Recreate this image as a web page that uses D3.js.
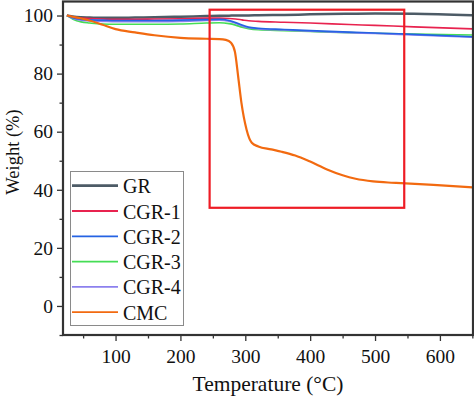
<!DOCTYPE html>
<html>
<head>
<meta charset="utf-8">
<script src="https://cdn.jsdelivr.net/npm/d3@7"></script>
<style>
  body { margin: 0; background: #fff; }
  svg text { font-family: "Liberation Serif", "Times New Roman", serif !important; }
</style>
</head>
<body>
<figure id="tga" style="margin:0"></figure>
<script>
// shared temperature grid for GR / CGR samples (°C)
const temps = [25, 40, 60, 80, 100, 130, 160, 200, 240, 260, 275, 285, 295, 305, 320, 360, 400, 460, 500, 560, 650];
const wGR   = [100, 99.5, 99.3, 99.2, 99.2, 99.3, 99.4, 99.6, 99.8, 99.9, 99.95, 100, 100, 100, 100.1, 100.2, 100.4, 100.6, 100.7, 100.6, 100.1];
const wCGR1 = [100, 99.3, 99.0, 98.8, 98.7, 98.7, 98.8, 98.9, 99.1, 99.1, 99.0, 98.8, 98.5, 98.2, 98.0, 97.7, 97.4, 96.9, 96.6, 96.1, 95.4];
const wCGR2 = [100, 98.9, 98.5, 98.4, 98.3, 98.3, 98.3, 98.4, 98.6, 98.7, 98.3, 97.6, 96.7, 96.0, 95.6, 95.2, 94.8, 94.3, 94.0, 93.5, 92.7];
const wCGR3 = [100, 98.2, 97.4, 97.1, 97.0, 97.0, 97.0, 97.1, 97.4, 97.5, 97.2, 96.7, 96.0, 95.5, 95.1, 94.8, 94.5, 94.1, 93.9, 93.6, 93.3];
const wCGR4 = [100, 98.6, 98.1, 98.0, 97.9, 97.9, 97.9, 98.0, 98.3, 98.4, 98.0, 97.3, 96.4, 95.8, 95.4, 95.0, 94.6, 94.1, 93.8, 93.3, 92.5];

// CMC has its own sampling (sharp step near 290 °C)
const tempsCMC = [25, 40, 60, 80, 100, 130, 160, 200, 240, 260, 270, 278, 284, 289, 294, 302, 310, 320, 340, 356, 377, 400, 426, 450, 470, 497, 520, 540, 590, 650];
const wCMC     = [100, 99.3, 98.3, 96.8, 95.3, 94.2, 93.2, 92.3, 92.0, 91.9, 91.6, 90.6, 87.5, 79, 70, 60.7, 56.2, 54.9, 53.9, 53.1, 51.8, 49.7, 47.0, 45.0, 43.8, 42.9, 42.5, 42.3, 41.7, 40.8];

const seriesNames = ["GR", "CGR-1", "CGR-2", "CGR-3", "CGR-4", "CMC"];
const xTicks = [100, 200, 300, 400, 500, 600];
const yTicks = [0, 20, 40, 60, 80, 100];

// highlighted region (data units)
const boxTemp = [245, 545];
const boxWeight = [33.8, 102];

const W = 474, H = 397;
const mLeft = 63, mRight = 473, mTop = 1, mBottom = 335;

const svg = d3.select("#tga").append("svg")
  .attr("width", W)
  .attr("height", H)
  .style("display", "block");

const x = d3.scaleLinear().domain([19, 651]).range([mLeft, mRight]);
const y = d3.scaleLinear().domain([-10, 105]).range([mBottom, mTop]);

const colors = ["#4d5b66", "#e8234f", "#2563e3", "#45dd55", "#8c80ee", "#f26a10"];
const widths = [2.5, 1.6, 1.6, 1.6, 1.6, 2.2];

const series = [
  {name: seriesNames[0], t: temps, w: wGR},
  {name: seriesNames[1], t: temps, w: wCGR1},
  {name: seriesNames[3], t: temps, w: wCGR3},
  {name: seriesNames[4], t: temps, w: wCGR4},
  {name: seriesNames[2], t: temps, w: wCGR2},
  {name: seriesNames[5], t: tempsCMC, w: wCMC}
];

// minor ticks (no labels)
const xMinor = d3.range(50, 651, 100);
const yMinor = d3.range(-10, 101, 20);

svg.append("g")
  .attr("transform", "translate(0," + mBottom + ")")
  .call(d3.axisBottom(x).tickValues(xMinor).tickSize(3.5).tickFormat(""))
  .call(g => g.select(".domain").remove())
  .selectAll("line").attr("stroke", "#333").attr("stroke-width", 1.3);

svg.append("g")
  .attr("transform", "translate(" + mLeft + ",0)")
  .call(d3.axisLeft(y).tickValues(yMinor).tickSize(3.5).tickFormat(""))
  .call(g => g.select(".domain").remove())
  .selectAll("line").attr("stroke", "#333").attr("stroke-width", 1.3);

// major ticks
const xAxis = svg.append("g")
  .attr("transform", "translate(0," + mBottom + ")")
  .call(d3.axisBottom(x).tickValues(xTicks).tickSize(6).tickPadding(8));
xAxis.select(".domain").remove();
xAxis.selectAll("line").attr("stroke", "#333").attr("stroke-width", 1.3);
xAxis.selectAll("text")
  .attr("font-size", 19.5)
  .attr("fill", "#111");

const yAxis = svg.append("g")
  .attr("transform", "translate(" + mLeft + ",0)")
  .call(d3.axisLeft(y).tickValues(yTicks).tickSize(6).tickPadding(4));
yAxis.select(".domain").remove();
yAxis.selectAll("line").attr("stroke", "#333").attr("stroke-width", 1.3);
yAxis.selectAll("text")
  .attr("font-size", 19.5)
  .attr("fill", "#111");

// curves
const line = d3.line()
  .x(d => x(d[0]))
  .y(d => y(d[1]))
  .curve(d3.curveMonotoneX);

const plot = svg.append("g");
series.forEach(s => {
  const i = seriesNames.indexOf(s.name);
  plot.append("path")
    .datum(s.t.map((t, k) => [t, s.w[k]]))
    .attr("d", line)
    .attr("fill", "none")
    .attr("stroke", colors[i])
    .attr("stroke-width", widths[i]);
});

// red highlight box
svg.append("rect")
  .attr("x", x(boxTemp[0]))
  .attr("y", y(boxWeight[1]))
  .attr("width", x(boxTemp[1]) - x(boxTemp[0]))
  .attr("height", y(boxWeight[0]) - y(boxWeight[1]))
  .attr("fill", "none")
  .attr("stroke", "#ee1c25")
  .attr("stroke-width", 2.2);

// frame
svg.append("rect")
  .attr("x", mLeft)
  .attr("y", mTop + 0.5)
  .attr("width", mRight - mLeft)
  .attr("height", mBottom - mTop - 0.5)
  .attr("fill", "none")
  .attr("stroke", "#333")
  .attr("stroke-width", 2.2);

// legend
const legend = svg.append("g");
legend.append("rect")
  .attr("x", 70.5).attr("y", 171.5)
  .attr("width", 113).attr("height", 154)
  .attr("fill", "#fff")
  .attr("stroke", "#8a8a8a")
  .attr("stroke-width", 1);

seriesNames.forEach((n, i) => {
  const ly = 185.7 + i * 25.3;
  legend.append("line")
    .attr("x1", 72).attr("x2", 118)
    .attr("y1", ly).attr("y2", ly)
    .attr("stroke", colors[i])
    .attr("stroke-width", i === 0 ? 2.8 : 1.8);
  legend.append("text")
    .attr("x", 123).attr("y", ly + 7.5)
    .attr("font-size", 20)
    .attr("fill", "#111")
    .text(n);
});

// axis titles
svg.append("text")
  .attr("x", 268).attr("y", 391)
  .attr("text-anchor", "middle")
  .attr("font-size", 21.5)
  .attr("fill", "#111")
  .text("Temperature (\u00B0C)");

svg.append("text")
  .attr("transform", "translate(19,152) rotate(-90)")
  .attr("text-anchor", "middle")
  .attr("font-size", 18.5)
  .attr("fill", "#111")
  .text("Weight (%)");
</script>
</body>
</html>
